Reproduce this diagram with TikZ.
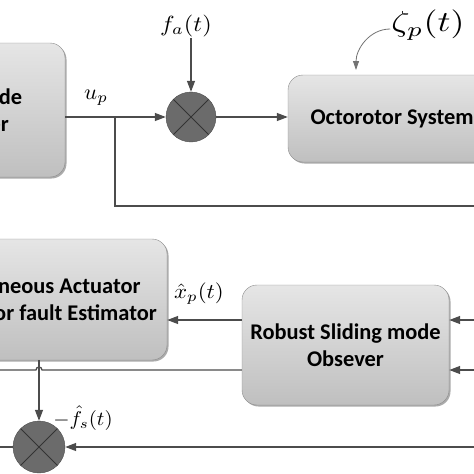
\documentclass[tikz,border=0pt]{standalone}
\usepackage{fontspec}
\setsansfont{Carlito}
\usepackage{amsmath}
\usetikzlibrary{arrows.meta,shadows,positioning}

% label math, stretched to the reference's wider serif
\newcommand{\lblmath}[3]{\scalebox{#1}[#2]{$#3$}}

\begin{document}
\begin{tikzpicture}[
  >={Triangle[length=11bp,width=8bp]},
  blk/.style={draw=black!45,rounded corners=15bp,top color=black!10,bottom color=black!25,
    drop shadow={shadow xshift=1.5bp,shadow yshift=-1.5bp,fill=black!55,opacity=0.6},
    font=\sffamily\bfseries\fontsize{22.5}{27}\selectfont,align=center},
  mult/.style={draw=black!70,circle,fill=black!58,minimum size=50bp,inner sep=0pt,
    path picture={\draw[black!80,line width=0.8bp]
      (path picture bounding box.north west) -- (path picture bounding box.south east)
      (path picture bounding box.north east) -- (path picture bounding box.south west);}},
  wire/.style={draw=black!70,line width=1.3bp},
  lbl/.style={inner sep=1bp}
]
\useasboundingbox (0,0) rectangle (474bp,-474bp);
\clip (0,0) rectangle (474bp,-474bp);

% blocks
\node (ctrl) at (-38bp,-110bp)[blk,minimum width=206bp,minimum height=134bp] {Sliding mode\\Controller};
\node (plant) at (392bp,-118.5bp)[blk,minimum width=208bp,minimum height=87bp] {Octorotor System};
\node (est) at (34bp,-299.5bp)[blk,minimum width=266bp,minimum height=121bp] {Simultaneous Actuator\\and Sensor fault Estimator};
\node (obs) at (345.5bp,-345bp)[blk,minimum width=207bp,minimum height=120bp] {Robust Sliding mode\\Obsever};
\node (sum1) at (191bp,-117bp)[mult] {};
\node (sum2) at (39bp,-447bp)[mult,minimum size=52bp] {};

% labels
\node (fa) at (186bp,-26bp)[lbl] {\lblmath{2.45}{2.2}{f_a(t)}};
\node (up) at (96bp,-98bp)[lbl] {\lblmath{2.3}{2.2}{u_p}};
\node (zeta) at (428bp,-25bp)[lbl] {\lblmath{3.6}{2.9}{\zeta_p(t)}};
\node (xh) at (199bp,-294bp)[lbl] {\lblmath{2.3}{2.1}{\hat{x}_p(t)}};
\node (fs) at (83bp,-418bp)[lbl] {\lblmath{2.1}{2.0}{-\hat{f}_s(t)}};

% free ends
\coordinate (br) at (115bp,-117bp);
\coordinate (fbR) at (480bp,-206bp);
\coordinate (zin) at (356bp,-70bp);
\coordinate (inA) at (480bp,-320bp);
\coordinate (inB) at (480bp,-370bp);
\coordinate (inC) at (480bp,-447bp);
\coordinate (outB) at (-5bp,-370bp);
\coordinate (outC) at (-5bp,-447bp);

% top loop
\draw [->,wire] (ctrl.east |- sum1) -- (sum1.west);
\draw [->,wire] (sum1 |- fa.south) -- (sum1.north);
\draw [->,wire] (sum1.east) -- (plant.west |- sum1);
\draw [wire] (br) |- (fbR);
\draw [->,draw=black!55,line width=0.8bp,>={Triangle[length=9bp,width=6bp]}] ([yshift=-4bp]zeta.west) to[out=180,in=90] (zin);

% bottom loop
\draw [->,wire] (inA) -- (obs.east |- inA);
\draw [->,wire] (inB) -- (obs.east |- inB);
\draw [->,wire] (obs.west |- inA) -- (est.east |- inA);
\draw [wire] (obs.west |- inB) -- ([xshift=3bp]sum2 |- inB) arc(0:180:3bp) -- (outB);
\draw [->,wire] (est.south -| sum2) -- (sum2.north);
\draw [->,wire] (inC) -- (sum2.east);
\draw [wire] (sum2.west) -- (outC);
\end{tikzpicture}
\end{document}
